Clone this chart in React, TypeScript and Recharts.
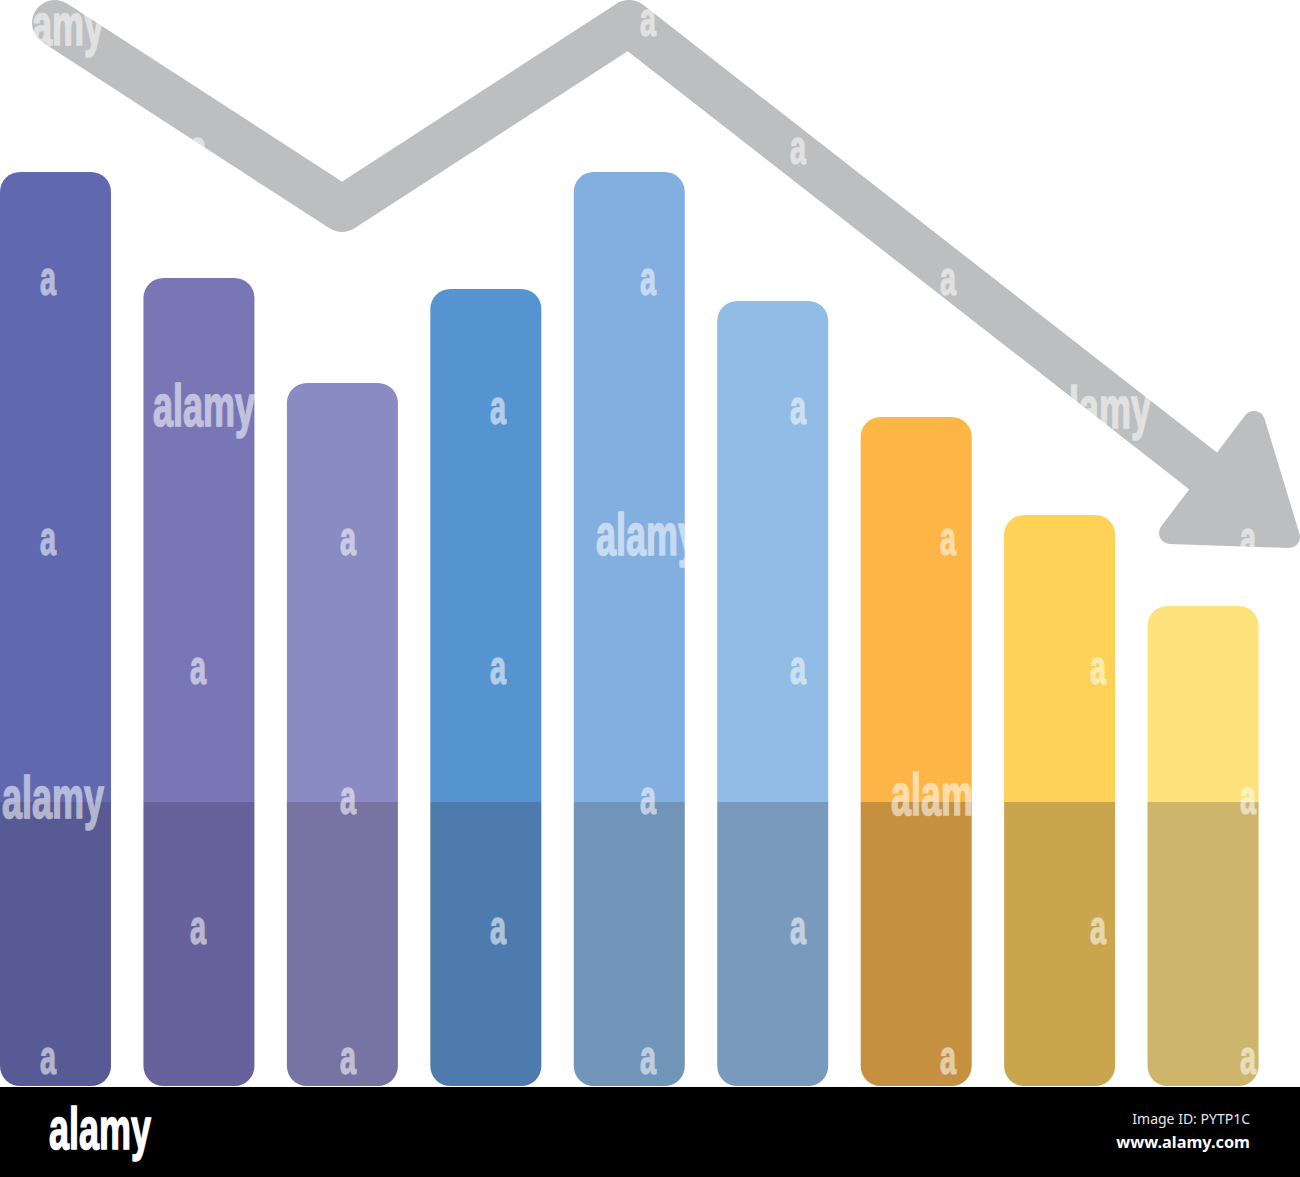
import { ComposedChart, Bar, Cell, Line, Scatter, XAxis, YAxis } from "recharts";

const categories = ["1", "2", "3", "4", "5", "6", "7", "8", "9"];
const upperValues = [630, 524, 419, 513, 630, 501, 385, 287, 196];
const lowerValues = [284, 284, 284, 284, 284, 284, 284, 284, 284];
const upperColors = ["#6069b0", "#7976b6", "#8a8bc3", "#5593d1", "#82afe0", "#90bce6", "#fdb545", "#fed257", "#fee37c"];
const lowerColors = ["#575a94", "#68629c", "#7773a2", "#4e7bae", "#7194b9", "#7a9abd", "#c59140", "#c9a64e", "#cdb56b"];

const arrowX = [55, 342, 629, 1225];
const arrowY = [1063, 877, 1063, 598];
const headX = [1254, 1170, 1289, 1254];
const headY = [664, 553, 549, 664];

const bigMarks = [
  { right: 104, y: 25 },
  { right: 255, y: 406 },
  { right: 104, y: 798 },
  { right: 698, y: 535 },
  { right: 993, y: 795 },
  { right: 1151, y: 408 },
];
const smallColsA = [48, 348, 648, 948, 1248];
const smallRowsA = [20, 279, 539, 798, 1058];
const smallColsB = [198, 498, 798, 1098];
const smallRowsB = [148, 408, 668, 928];
const skipped = ["48,20", "48,798", "348,20", "648,539", "948,20", "948,798", "1248,20", "198,408", "1098,408"];

const barData = categories.map((name, i) => ({ name, lower: lowerValues[i], upper: upperValues[i] }));
const arrowData = arrowX.map((x, i) => ({ x, y: arrowY[i] }));
const headData = headX.map((x, i) => ({ x, y: headY[i] }));

const GREY = "#bdbec0";
const NARROW = "'Liberation Sans Narrow', 'Liberation Sans', sans-serif";

function Stamp({ x, y, size, alpha, text, anchorRight, stroke }: any) {
  return (
    <span
      style={{
        position: "absolute",
        left: x,
        top: y,
        fontFamily: NARROW,
        fontWeight: 700,
        fontSize: size,
        lineHeight: 0.8,
        color: "#fff",
        opacity: alpha,
        WebkitTextStroke: `${stroke}px #fff`,
        whiteSpace: "nowrap",
        transform: `translate(${anchorRight ? "-100%" : "-50%"}, -50%) scaleX(0.6)`,
        transformOrigin: anchorRight ? "right center" : "center",
      }}
    >
      {text}
    </span>
  );
}

export default function App() {
  const smalls: { x: number; y: number }[] = [];
  smallColsA.forEach((x) => smallRowsA.forEach((y) => smalls.push({ x, y })));
  smallColsB.forEach((x) => smallRowsB.forEach((y) => smalls.push({ x, y })));

  return (
    <div style={{ position: "absolute", left: 0, top: 0, width: 1300, height: 1177, background: "#fff", overflow: "hidden" }}>
      <ComposedChart
        width={1300}
        height={1177}
        data={barData}
        margin={{ top: 0, right: 0, bottom: 91, left: -16 }}
      >
        <XAxis xAxisId="bars" dataKey="name" padding={{ left: 0, right: 25 }} hide />
        <XAxis xAxisId="arrow" dataKey="x" type="number" domain={[-16, 1300]} hide />
        <YAxis yAxisId="bars" domain={[0, 1086]} hide />
        <YAxis yAxisId="arrow" dataKey="y" type="number" domain={[0, 1086]} hide />
        <Bar xAxisId="bars" yAxisId="bars" dataKey="lower" stackId="a" barSize={111} radius={[0, 0, 20, 20]} isAnimationActive={false}>
          {lowerColors.map((c, i) => (
            <Cell key={i} fill={c} />
          ))}
        </Bar>
        <Bar xAxisId="bars" yAxisId="bars" dataKey="upper" stackId="a" barSize={111} radius={[20, 20, 0, 0]} isAnimationActive={false}>
          {upperColors.map((c, i) => (
            <Cell key={i} fill={c} />
          ))}
        </Bar>
        <Line
          xAxisId="arrow"
          yAxisId="arrow"
          data={arrowData}
          dataKey="y"
          stroke={GREY}
          strokeWidth={46}
          strokeLinejoin="round"
          strokeLinecap="round"
          dot={false}
          activeDot={false}
          isAnimationActive={false}
        />
        <Scatter
          xAxisId="arrow"
          yAxisId="arrow"
          data={headData}
          line={{ stroke: GREY, strokeWidth: 22, strokeLinejoin: "round", strokeLinecap: "round", fill: GREY }}
          lineJointType="linear"
          shape={() => null}
          isAnimationActive={false}
        />
      </ComposedChart>

      {bigMarks.map((m, i) => (
        <Stamp key={i} x={m.right} y={m.y} size={60} alpha={0.55} stroke={1.6} text="alamy" anchorRight />
      ))}
      {smalls
        .filter((s) => !skipped.includes(`${s.x},${s.y}`))
        .map((s) => (
          <Stamp key={`${s.x}-${s.y}`} x={s.x} y={s.y} size={48} alpha={0.55} stroke={1.3} text="a" />
        ))}

      <div style={{ position: "absolute", left: 0, top: 1087, width: 1300, height: 90, background: "#000" }} />
      <Stamp x={151} y={1129} size={60} alpha={1} stroke={1.6} text="alamy" anchorRight />
      <div
        style={{
          position: "absolute",
          right: 50,
          top: 1110,
          color: "#e6e6e6",
          fontFamily: "'Noto Sans', 'Open Sans', sans-serif",
          fontSize: 14,
          lineHeight: "18px",
        }}
      >
        Image ID: PYTP1C
      </div>
      <div
        style={{
          position: "absolute",
          right: 50,
          top: 1132,
          color: "#fff",
          fontFamily: "'Noto Sans', 'Open Sans', sans-serif",
          fontWeight: 700,
          fontSize: 16.3,
          lineHeight: "20px",
        }}
      >
        www.alamy.com
      </div>
    </div>
  );
}
